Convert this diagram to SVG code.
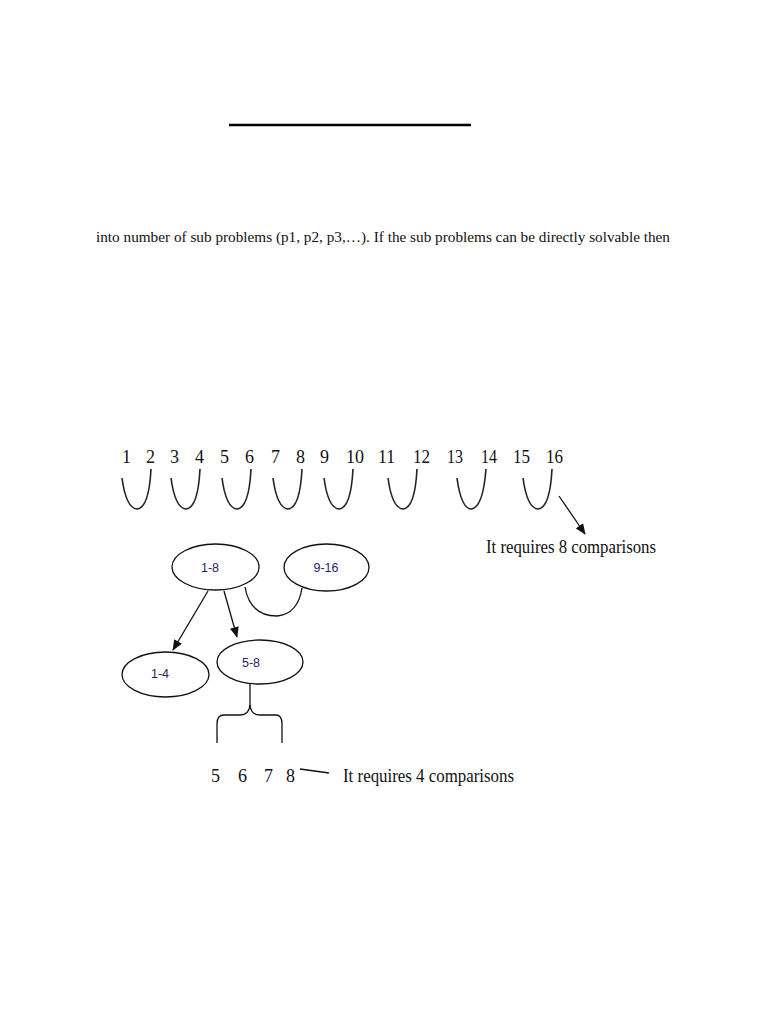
<svg xmlns="http://www.w3.org/2000/svg" width="768" height="1024" viewBox="0 0 768 1024">
<defs>
<style>
.t{font-family:"Liberation Serif","Times New Roman",serif;fill:#111}
.n{font-size:18px}
.lbl{font-family:"Liberation Sans",Arial,sans-serif;font-size:12.5px;fill:#262660;text-anchor:middle}
.cup{fill:none;stroke:#222;stroke-width:1.6}
.node{fill:#fff;stroke:#111;stroke-width:1.3}
.c{fill:none;stroke:#111;stroke-width:1.3}
</style>
<marker id="ah" viewBox="0 0 12 10" refX="11" refY="5" markerWidth="11" markerHeight="9" orient="auto" markerUnits="userSpaceOnUse">
<path d="M0,0 L12,5 L0,10 z" fill="#111"/>
</marker>
</defs>
<rect width="768" height="1024" fill="#fff"/>
<line x1="229" y1="125" x2="471" y2="125" stroke="#000" stroke-width="2.5"/>
<text class="t" x="96" y="242" font-size="14.5" textLength="574" lengthAdjust="spacingAndGlyphs">into number of sub problems (p1, p2, p3,…). If the sub problems can be directly solvable then</text>

<g id="numbers" class="t n">
<text x="122" y="463">1</text><text x="146" y="463">2</text>
<text x="170" y="463">3</text><text x="195" y="463">4</text>
<text x="220" y="463">5</text><text x="245" y="463">6</text>
<text x="271" y="463">7</text><text x="296" y="463">8</text>
<text x="320" y="463">9</text><text x="346" y="463" textLength="18" lengthAdjust="spacingAndGlyphs">10</text>
<text x="378" y="463" textLength="17" lengthAdjust="spacingAndGlyphs">11</text><text x="413" y="463" textLength="17" lengthAdjust="spacingAndGlyphs">12</text>
<text x="447" y="463" textLength="16" lengthAdjust="spacingAndGlyphs">13</text><text x="481" y="463" textLength="16" lengthAdjust="spacingAndGlyphs">14</text>
<text x="513" y="463" textLength="17" lengthAdjust="spacingAndGlyphs">15</text><text x="546" y="463" textLength="17" lengthAdjust="spacingAndGlyphs">16</text>
</g>

<g id="cups">
<path class="cup" d="M122,478 Q126,508 137,509 Q149,508 151,469"/>
<path class="cup" d="M171,478 Q175,508 186,509 Q198,508 200,469"/>
<path class="cup" d="M222,478 Q226,508 237,509 Q249,508 251,469"/>
<path class="cup" d="M273,478 Q277,508 288,509 Q300,508 302,469"/>
<path class="cup" d="M324,478 Q328,508 339,509 Q351,508 353,469"/>
<path class="cup" d="M388,478 Q392,508 403,509 Q415,508 417,469"/>
<path class="cup" d="M457,478 Q461,508 471,509 Q483,508 486,469"/>
<path class="cup" d="M523,478 Q527,508 538,509 Q550,508 552,469"/>
</g>

<text class="t" x="486" y="553" font-size="18" textLength="170" lengthAdjust="spacingAndGlyphs">It requires 8 comparisons</text>

<g id="node-1-8"><ellipse class="node" cx="215.5" cy="567" rx="43.5" ry="23"/><text class="lbl" x="210" y="572">1-8</text></g>
<g id="node-9-16"><ellipse class="node" cx="326.5" cy="567.5" rx="42.5" ry="23.5"/><text class="lbl" x="326" y="572">9-16</text></g>
<g id="node-1-4"><ellipse class="node" cx="165.5" cy="674.5" rx="43.5" ry="22.5"/><text class="lbl" x="160" y="678">1-4</text></g>
<g id="node-5-8"><ellipse class="node" cx="260" cy="662" rx="43" ry="22"/><text class="lbl" x="251" y="667">5-8</text></g>

<g id="connectors">
<path class="c" stroke-width="1.5" d="M559,496 L585,534" marker-end="url(#ah)"/>
<path class="c" d="M245,587 Q250,616 277,616 Q298,614 302,588"/>
<path class="c" d="M208,591 L173,650" marker-end="url(#ah)"/>
<path class="c" d="M224,591 L237,637" marker-end="url(#ah)"/>
<path class="c" d="M250,684 L250,705 Q249,715 240,715 L224,715 Q217,715 217,724 L217,743"/>
<path class="c" d="M250,705 Q251,715 260,715 L276,715 Q282,715 282,724 L282,743"/>
<path class="c" stroke-width="2" d="M300,769 L329,773"/>
</g>

<g id="numbers2" class="t n">
<text x="211" y="782">5</text><text x="238" y="782">6</text><text x="264" y="782">7</text><text x="286" y="782">8</text>
</g>
<text class="t" x="343" y="782" font-size="18" textLength="171" lengthAdjust="spacingAndGlyphs">It requires 4 comparisons</text>
</svg>
